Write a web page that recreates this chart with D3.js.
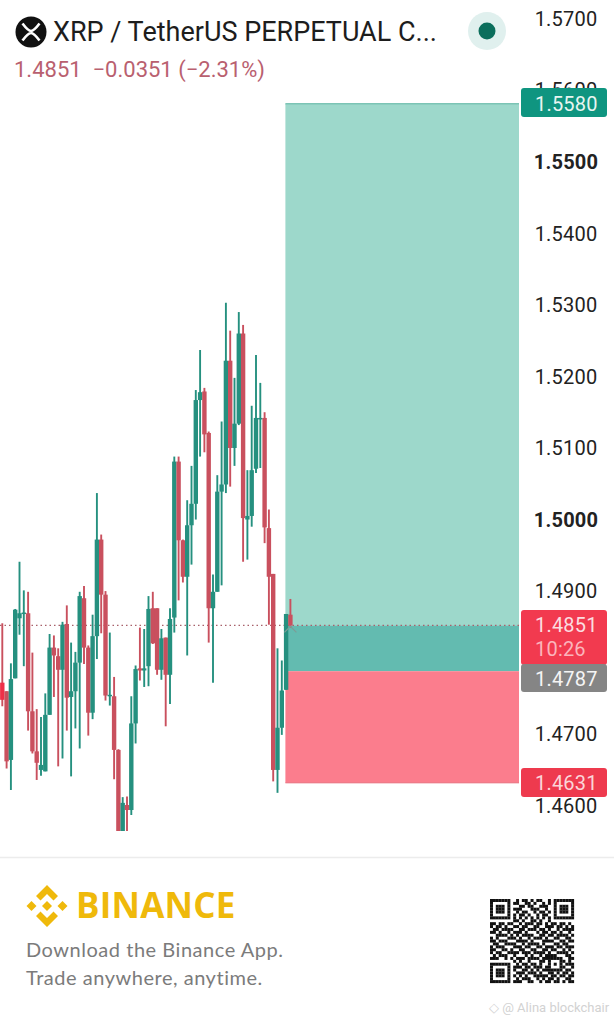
<!DOCTYPE html>
<html>
<head>
<meta charset="utf-8">
<title>XRP / TetherUS</title>
<script src="https://cdn.jsdelivr.net/npm/d3@7"></script>
<style>
  html, body { margin: 0; padding: 0; background: #fff; overflow: hidden; }
  svg { display: block; }
  text { font-family: Roboto, sans-serif; }
</style>
</head>
<body>
<div id="chart"></div>
<script>
// candles, oldest first
const opens = [1.4771,1.4759,1.4663,1.4777,1.4861,1.4867,1.4868,1.4731,1.4675,1.4649,1.4647,1.4726,1.4820,1.4808,1.4789,1.4853,1.4751,1.4759,1.4799,1.4889,1.4820,1.4729,1.4836,1.4971,1.4894,1.4752,1.4752,1.4677,1.4555,1.4600,1.4593,1.4714,1.4791,1.4788,1.4794,1.4875,1.4875,1.4789,1.4834,1.4782,1.4862,1.5080,1.4970,1.4919,1.4991,1.5021,1.5166,1.5178,1.5120,1.4875,1.4898,1.5038,1.5048,1.5221,1.5099,1.5133,1.5259,1.4999,1.5004,1.5070,1.5140,1.5141,1.4987,1.4923,1.4649,1.4708,1.4761,1.4866];
const highs = [1.4854,1.4759,1.4798,1.4874,1.4940,1.4900,1.4898,1.4813,1.4734,1.4723,1.4756,1.4839,1.4837,1.4819,1.4856,1.4879,1.4827,1.4814,1.4898,1.4906,1.4823,1.4866,1.5036,1.4978,1.4899,1.4841,1.4779,1.4678,1.4611,1.4612,1.4752,1.4795,1.4848,1.4846,1.4892,1.4898,1.4875,1.4846,1.4834,1.4875,1.5087,1.5087,1.4971,1.5026,1.5074,1.5180,1.5236,1.5183,1.5122,1.4922,1.5061,1.5136,1.5302,1.5263,1.5197,1.5289,1.5271,1.5068,1.5158,1.5229,1.5190,1.5149,1.5013,1.4923,1.4819,1.4802,1.4867,1.4888];
const lows = [1.4738,1.4651,1.4621,1.4777,1.4838,1.4794,1.4704,1.4672,1.4635,1.4641,1.4647,1.4726,1.4751,1.4654,1.4665,1.4704,1.4640,1.4707,1.4679,1.4797,1.4697,1.4720,1.4804,1.4840,1.4746,1.4739,1.4636,1.4548,1.4548,1.4555,1.4586,1.4686,1.4774,1.4765,1.4766,1.4825,1.4782,1.4775,1.4710,1.4741,1.4841,1.4886,1.4911,1.4809,1.4936,1.4999,1.5087,1.5093,1.4827,1.4771,1.4898,1.4907,1.5036,1.5045,1.5074,1.5131,1.4940,1.4943,1.4989,1.5064,1.5071,1.4966,1.4852,1.4633,1.4617,1.4698,1.4761,1.4848];
const closes = [1.4747,1.4661,1.4776,1.4873,1.4868,1.4869,1.4731,1.4675,1.4659,1.4656,1.4726,1.4820,1.4809,1.4789,1.4852,1.4750,1.4759,1.4799,1.4892,1.4820,1.4729,1.4836,1.4971,1.4894,1.4753,1.4754,1.4677,1.4555,1.4603,1.4593,1.4714,1.4790,1.4788,1.4791,1.4874,1.4826,1.4789,1.4833,1.4782,1.4860,1.5080,1.4970,1.4919,1.4991,1.5021,1.5166,1.5177,1.5118,1.4875,1.4898,1.5038,1.5048,1.5221,1.5099,1.5133,1.5259,1.5001,1.5004,1.5068,1.5141,1.5141,1.4988,1.4919,1.4649,1.4708,1.4760,1.4867,1.4851];

const axisTicks = [1.57, 1.56, 1.55, 1.54, 1.53, 1.52, 1.51, 1.50, 1.49, 1.47, 1.46];
const boldTicks = [1.55, 1.50];

const targetPrice = 1.5580;
const lastPrice = 1.4851;
const entryPrice = 1.4787;
const stopPrice = 1.4631;

const titleText = "XRP / TetherUS PERPETUAL C...";
const changeText = "1.4851  \u22120.0351 (\u22122.31%)";
const countdown = "10:26";
const footerLines = ["Download the Binance App.", "Trade anywhere, anytime."];

const qrRows = [
  "11111110010110101100101111111",
  "10000010110011010010101000001",
  "10111010001101100111001011101",
  "10111010111000111001001011101",
  "10111010010110010110101011101",
  "10000010101101001011001000001",
  "11111110101010101010101111111",
  "00000000110100110100100000000",
  "11011011001011101101011011010",
  "10110100110110011001110110101",
  "01101111001101110110100101111",
  "11010010111010001011011010010",
  "00111101010111100110110111101",
  "10100011101001011101001100110",
  "11011100011110100011110011011",
  "01100111100101111010001101100",
  "10111000111011001101110110111",
  "11001101001100110011011001010",
  "10110011110111011110100111101",
  "01011100100010100101111000110",
  "11100101011101111011111110011",
  "00000000101001000110100011010",
  "11111110010110110100101010111",
  "10000010111011011101100011001",
  "10111010100110101011111110110",
  "10111010011101110100110101101",
  "10111010101010011111011011011",
  "10000010010111001010110100110",
  "11111110111001100101101101011"
];

const w = 614;
const h = 1023;

const red = "#c9505e";
const green = "#25907f";

const yScale = d3.scaleLinear().domain([1.46, 1.57]).range([805, 18]);
const xScale = d3.scaleLinear().domain([0, 67]).range([2.3, 290.4]);

const svg = d3.select("#chart").append("svg")
    .attr("width", w)
    .attr("height", h);

svg.append("clipPath").attr("id", "plot")
  .append("rect").attr("x", 0).attr("y", 0).attr("width", 520).attr("height", 831);

const plot = svg.append("g").attr("clip-path", "url(#plot)");

// position tool, right of the last candle
const zoneX = xScale(67) - 5;
const zoneW = 519 - zoneX;

plot.append("rect")
    .attr("x", zoneX).attr("y", yScale(targetPrice))
    .attr("width", zoneW).attr("height", yScale(lastPrice) - yScale(targetPrice))
    .attr("fill", "#9dd8cb");
plot.append("rect")
    .attr("x", zoneX).attr("y", yScale(lastPrice))
    .attr("width", zoneW).attr("height", yScale(entryPrice) - yScale(lastPrice))
    .attr("fill", "#63bbb0");
plot.append("rect")
    .attr("x", zoneX).attr("y", yScale(entryPrice))
    .attr("width", zoneW).attr("height", yScale(stopPrice) - yScale(entryPrice))
    .attr("fill", "#fb7d8d");
plot.append("line")
    .attr("x1", zoneX).attr("x2", zoneX + zoneW)
    .attr("y1", yScale(targetPrice)).attr("y2", yScale(targetPrice))
    .attr("stroke", "#7cc4b5").attr("stroke-width", 1.5);
plot.append("line")
    .attr("x1", zoneX).attr("x2", zoneX + zoneW)
    .attr("y1", yScale(stopPrice)).attr("y2", yScale(stopPrice))
    .attr("stroke", "#e8707f").attr("stroke-width", 1);

// last price line
plot.append("line")
    .attr("x1", 0).attr("x2", 520)
    .attr("y1", yScale(lastPrice)).attr("y2", yScale(lastPrice))
    .attr("stroke", "#a8606a")
    .attr("stroke-width", 1.4)
    .attr("stroke-dasharray", "1.5 3");

const candles = plot.selectAll("g.candle")
    .data(d3.range(opens.length))
    .enter()
    .append("g")
    .attr("class", "candle");

candles.append("line")
    .attr("x1", i => xScale(i))
    .attr("x2", i => xScale(i))
    .attr("y1", i => yScale(highs[i]))
    .attr("y2", i => yScale(lows[i]))
    .attr("stroke", i => closes[i] >= opens[i] ? green : red)
    .attr("stroke-width", 1.9);

candles.append("rect")
    .attr("x", i => xScale(i) - 2.2)
    .attr("y", i => yScale(Math.max(opens[i], closes[i])))
    .attr("width", 4.4)
    .attr("height", i => Math.max(1.5, Math.abs(yScale(opens[i]) - yScale(closes[i]))))
    .attr("fill", i => closes[i] >= opens[i] ? green : (i === 0 ? "#ee3048" : red));

// small cross-hair mark under the last candle
plot.append("path")
    .attr("d", d3.line()([[xScale(67) - 6, yScale(lastPrice) + 7], [xScale(67), yScale(lastPrice) + 1], [xScale(67) + 6, yScale(lastPrice) + 7]]))
    .attr("fill", "none")
    .attr("stroke", "#7d9c96")
    .attr("stroke-width", 1.2);

// price axis
const axis = d3.axisRight(yScale)
    .tickValues(axisTicks)
    .tickFormat(d3.format(".4f"))
    .tickSize(0)
    .tickPadding(0);

const axisG = svg.append("g")
    .attr("transform", "translate(566,1)")
    .call(axis);
axisG.select(".domain").remove();
axisG.selectAll("text")
    .attr("text-anchor", "middle")
    .attr("x", 0)
    .attr("fill", "#222")
    .style("font-family", "Roboto, sans-serif")
    .style("font-size", "20px")
    .style("letter-spacing", "0.2px")
    .style("font-weight", d => boldTicks.includes(d) ? 700 : 400);

// price tags
function tag(y0, y1, fill) {
  svg.append("rect")
      .attr("x", 521).attr("y", y0)
      .attr("width", 86).attr("height", y1 - y0)
      .attr("rx", 3)
      .attr("fill", fill);
}
function tagText(y, s, fill) {
  svg.append("text")
      .attr("x", 535).attr("y", y)
      .attr("fill", fill)
      .style("font-size", "20px")
      .style("letter-spacing", "0.2px")
      .text(s);
}
tag(88, 117, "#0f9580");
tagText(111, d3.format(".4f")(targetPrice), "#e8f5f1");
tag(610, 665, "#f23a4f");
tagText(632, d3.format(".4f")(lastPrice), "#fbdde0");
tagText(656, countdown, "#fbb4bb");
tag(664, 692, "#858585");
tagText(686, d3.format(".4f")(entryPrice), "#f5f5f5");
tag(768, 797, "#ee3a4e");
tagText(790, d3.format(".4f")(stopPrice), "#fbd5d9");

// header
svg.append("circle").attr("cx", 31).attr("cy", 32).attr("r", 15.5).attr("fill", "#111");
svg.append("path")
    .attr("d", "M22.5 23.5 C27 29.5 29 31 31 31 C33 31 35 29.5 39.5 23.5 M22.5 40.5 C27 34.5 29 33 31 33 C33 33 35 34.5 39.5 40.5")
    .attr("fill", "none").attr("stroke", "#fff").attr("stroke-width", 2.6);

svg.append("text")
    .attr("x", 53).attr("y", 41)
    .attr("fill", "#1d1d1d")
    .style("font-size", "27px")
    .text(titleText);

svg.append("text")
    .attr("x", 14).attr("y", 77)
    .attr("fill", "#b9606f")
    .style("font-size", "22px")
    .style("white-space", "pre")
    .attr("xml:space", "preserve")
    .text(changeText);

svg.append("circle").attr("cx", 487).attr("cy", 31).attr("r", 19).attr("fill", "#e0f0ee");
svg.append("circle").attr("cx", 487).attr("cy", 31).attr("r", 8.5).attr("fill", "#0b6e5c");

// footer
svg.append("line")
    .attr("x1", 0).attr("x2", w)
    .attr("y1", 857.5).attr("y2", 857.5)
    .attr("stroke", "#ececec").attr("stroke-width", 1.5);

const gold = "#efb90b";
const logo = svg.append("g").attr("transform", "translate(47,906)").attr("fill", gold);
const logoShapes = [
  [[0, -21], [11, -10], [6.5, -5.5], [0, -12], [-6.5, -5.5], [-11, -10]],
  [[0, 21], [11, 10], [6.5, 5.5], [0, 12], [-6.5, 5.5], [-11, 10]],
  [[0, -5], [5, 0], [0, 5], [-5, 0]],
  [[-15.5, -5], [-10.5, 0], [-15.5, 5], [-20.5, 0]],
  [[15.5, -5], [20.5, 0], [15.5, 5], [10.5, 0]]
];
logo.selectAll("path").data(logoShapes).enter().append("path")
    .attr("d", d => d3.line()(d) + "Z");

svg.append("text")
    .attr("x", 76).attr("y", 918)
    .attr("fill", gold)
    .style("font-family", "'Open Sans', sans-serif")
    .style("font-weight", 700)
    .style("font-size", "35px")
    .style("letter-spacing", "0.2px")
    .text("BINANCE");

svg.selectAll("text.foot")
    .data(footerLines)
    .enter()
    .append("text")
    .attr("class", "foot")
    .attr("x", 26)
    .attr("y", (d, i) => 957 + i * 28)
    .attr("fill", "#7b7b7b")
    .style("font-family", "Lato, sans-serif")
    .style("font-size", "20px")
    .style("letter-spacing", "0.53px")
    .text(d => d);

const qrCell = 84 / qrRows.length;
const qr = svg.append("g").attr("transform", "translate(490,899)");
qrRows.forEach((row, r) => {
  row.split("").forEach((c, col) => {
    if (c === "1") {
      qr.append("rect")
          .attr("x", col * qrCell).attr("y", r * qrCell)
          .attr("width", qrCell + 0.1).attr("height", qrCell + 0.1)
          .attr("fill", "#111");
    }
  });
});

// watermark
svg.append("text")
    .attr("x", 489).attr("y", 1012)
    .attr("fill", "#d2d2d2")
    .style("font-size", "13px")
    .text("\u25C7 @ Alina blockchair");
</script>
</body>
</html>
